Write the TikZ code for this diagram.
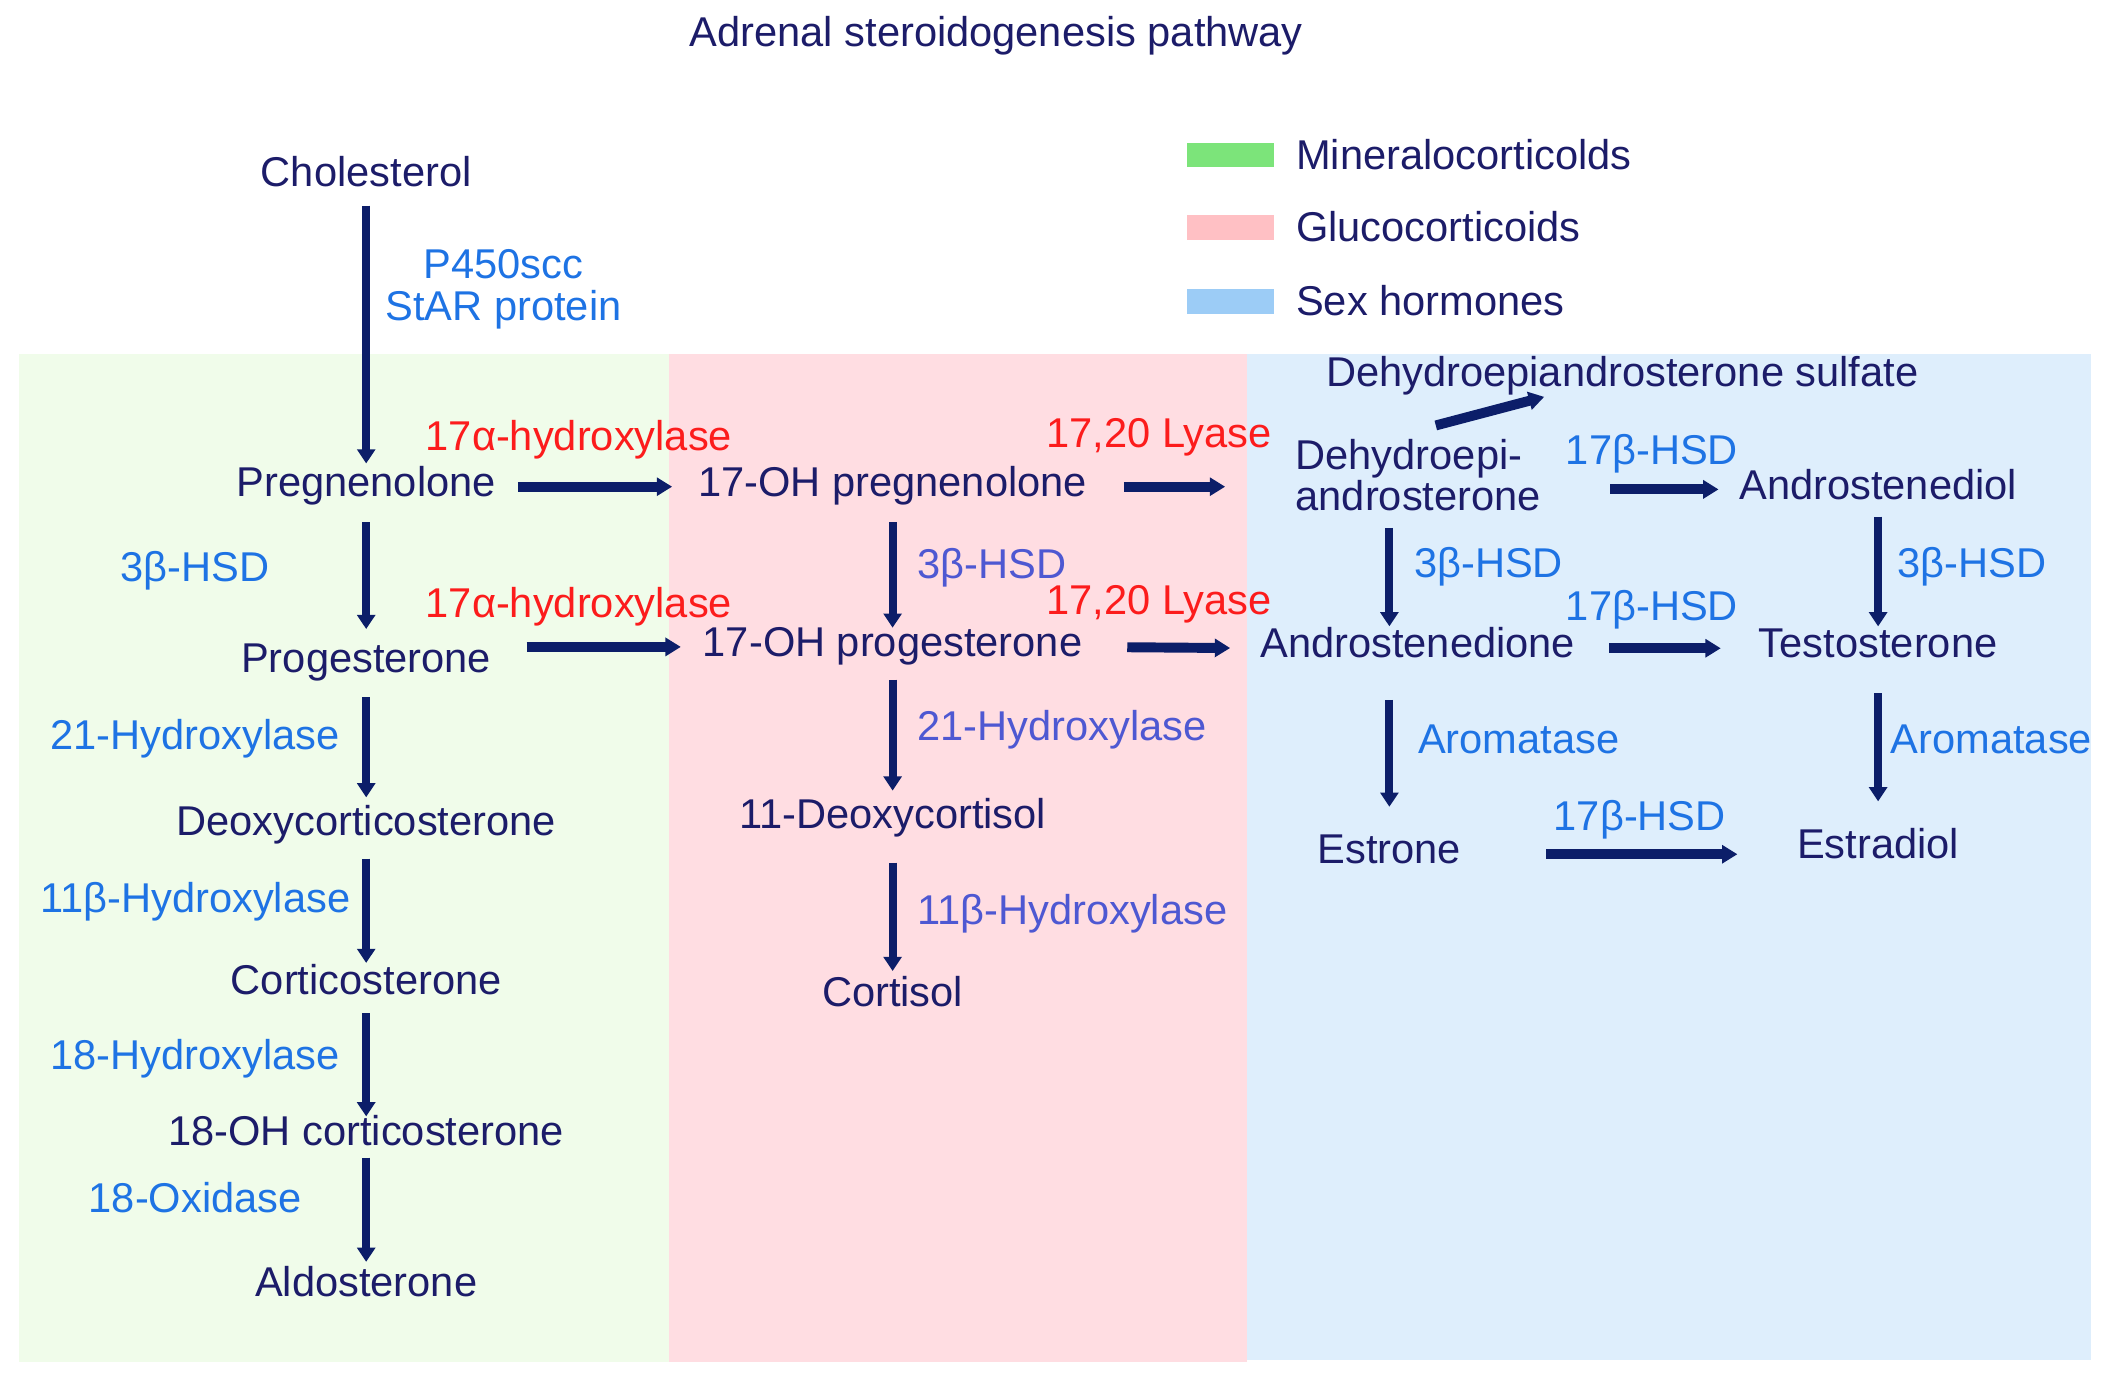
\documentclass[tikz,border=0pt]{standalone}
\usepackage{fontspec}
\setmainfont{Liberation Sans}
\usetikzlibrary{positioning,arrows.meta}

\definecolor{navy}{RGB}{28,28,105}
\definecolor{arrowblue}{RGB}{12,30,105}
\definecolor{enzblue}{RGB}{30,115,228}
\definecolor{enzpurple}{RGB}{78,88,210}
\definecolor{enzred}{RGB}{252,28,28}
\definecolor{mineral}{RGB}{240,252,234}
\definecolor{gluco}{RGB}{255,221,226}
\definecolor{sexhorm}{RGB}{222,238,252}
\definecolor{keygreen}{RGB}{124,228,122}
\definecolor{keypink}{RGB}{255,192,196}
\definecolor{keyblue}{RGB}{156,204,246}

\tikzset{
  txt/.style={font=\fontsize{17.6}{17.6}\selectfont, inner sep=0pt},
  fixh/.style={text height=0.86em, text depth=0.04em, yshift=-0.07cm},
  cmpd/.style={txt, fixh, text=navy},
  enz/.style={txt, fixh, text=enzblue},
  enzb/.style={txt, fixh, text=enzpurple},
  enzr/.style={txt, fixh, text=enzred},
  swatch/.style={minimum width=1.28cm, minimum height=0.36cm, inner sep=0pt},
  vstep/.style={draw=arrowblue, line width=3.4pt, -{Triangle[length=6pt, width=7.5pt]}, shorten <=0.26cm, shorten >=0.26cm},
  hstep/.style={draw=arrowblue, line width=4.2pt, -{Triangle[length=6.5pt, width=7.5pt]}}
}

\begin{document}
\begin{tikzpicture}[x=0.02cm, y=-0.02cm]
    \useasboundingbox (0,0) rectangle (1568,1032);
    % Panels
    \fill[mineral] (14,263) rectangle (497,1012);
    \fill[gluco] (497,263) rectangle (926,1012);
    \fill[sexhorm] (926,263) rectangle (1553,1010);
    % Title
    \node (title) [cmpd] at (740,24) {Adrenal steroidogenesis pathway};
    % Key
    \node (kmin) [swatch, fill=keygreen] at (914,115) {};
    \node (kglu) [swatch, fill=keypink] at (914,169) {};
    \node (ksex) [swatch, fill=keyblue] at (914,224) {};
    \node (tmin) [cmpd, right=0.32cm of kmin] {Mineralocorticolds};
    \node (tglu) [cmpd, right=0.32cm of kglu] {Glucocorticoids};
    \node (tsex) [cmpd, right=0.32cm of ksex] {Sex hormones};
    % Mineralocorticoids
    \node (chol) [cmpd] at (272,128) {Cholesterol};
    \node (preg) [cmpd] at (272,358) {Pregnenolone};
    \node (prog) [cmpd] at (272,489) {Progesterone};
    \node (doc) [cmpd] at (272,610) {Deoxycorticosterone};
    \node (cort) [cmpd] at (272,728) {Corticosterone};
    \node (ohcort) [cmpd] at (272,840) {18-OH corticosterone};
    \node (aldo) [cmpd] at (272,952) {Aldosterone};
    % Glucocorticoids
    \node (ohpreg) [cmpd] at (663,358) {17-OH pregnenolone};
    \node (ohprog) [cmpd] at (663,477) {17-OH progesterone};
    \node (dcortl) [cmpd] at (663,605) {11-Deoxycortisol};
    \node (cortl) [cmpd] at (663,737) {Cortisol};
    % Sex hormones
    \node (dheas) [cmpd] at (1205,276) {Dehydroepiandrosterone sulfate};
    \node (dhea) [txt, text=navy, align=left, anchor=west, font=\fontsize{17.6}{16.4}\selectfont] at (962,353) {Dehydroepi-\\androsterone};
    \node (andro) [cmpd] at (1053,478) {Androstenedione};
    \node (estr) [cmpd] at (1032,631) {Estrone};
    \node (adiol) [cmpd] at (1395,360) {Androstenediol};
    \node (testo) [cmpd] at (1395,478) {Testosterone};
    \node (estd) [cmpd] at (1395,627) {Estradiol};
    % Enzymes
    \node (scc) [txt, text=enzblue, align=center] at (374,215) {P450scc\\StAR protein};
    \node (hsd1) [enz] at (145,421) {3β-HSD};
    \node (hyd21a) [enz] at (145,546) {21-Hydroxylase};
    \node (hyd11a) [enz] at (145,667) {11β-Hydroxylase};
    \node (hyd18) [enz] at (145,784) {18-Hydroxylase};
    \node (oxi18) [enz] at (145,890) {18-Oxidase};
    \node (hyd17a) [enzr] at (430,324) {17α-hydroxylase};
    \node (hyd17b) [enzr] at (430,448) {17α-hydroxylase};
    \node (lyasea) [enzr] at (861,322) {17,20 Lyase};
    \node (lyaseb) [enzr] at (861,446) {17,20 Lyase};
    \node (hsd2) [enzb, anchor=west] at (681,419) {3β-HSD};
    \node (hyd21b) [enzb, anchor=west] at (681,539) {21-Hydroxylase};
    \node (hyd11b) [enzb, anchor=west] at (681,676) {11β-Hydroxylase};
    \node (hsd3) [enz, anchor=west] at (1050,418) {3β-HSD};
    \node (aroma) [enz, anchor=west] at (1053,549) {Aromatase};
    \node (hsd4) [enz, anchor=west] at (1409,418) {3β-HSD};
    \node (aromb) [enz, anchor=west] at (1404,549) {Aromatase};
    \node (bhsda) [enz] at (1227,334) {17β-HSD};
    \node (bhsdb) [enz] at (1227,450) {17β-HSD};
    \node (bhsdc) [enz] at (1218,606) {17β-HSD};
    % Vertical steps
    \draw[vstep, shorten >=0.18cm] (chol) -- (preg);
    \draw[vstep, shorten <=0.36cm, shorten >=0.34cm] (preg) -- (prog);
    \draw[vstep, shorten <=0.34cm] (prog) -- (doc);
    \draw[vstep, shorten <=0.32cm, shorten >=0.16cm] (doc) -- (cort);
    \draw[vstep, shorten >=0.12cm] (cort) -- (ohcort);
    \draw[vstep, shorten <=0.16cm, shorten >=0.2cm] (ohcort) -- (aldo);
    \draw[vstep, shorten <=0.36cm, shorten >=0.12cm] (ohpreg) -- (ohprog);
    \draw[vstep, shorten <=0.32cm] (ohprog) -- (dcortl);
    \draw[vstep, shorten <=0.48cm, shorten >=0.22cm] (dcortl) -- (cortl);
    \draw[vstep, shorten <=0.24cm, shorten >=0.16cm] (estr |- dhea.south) -- (estr |- andro.north);
    \draw[vstep, shorten <=0.6cm, shorten >=0.54cm] (estr |- andro.south) -- (estr.north);
    \draw[vstep, shorten <=0.24cm, shorten >=0.16cm] (adiol) -- (testo);
    \draw[vstep, shorten <=0.5cm, shorten >=0.54cm] (testo) -- (estd);
    % Horizontal steps
    \draw[hstep, shorten <=0.32cm, shorten >=0.38cm] (preg.east) -- (ohpreg.west);
    \draw[hstep, shorten <=0.52cm, shorten >=0.32cm] (prog.east |- ohprog) -- (ohprog.west);
    \draw[hstep, shorten <=0.54cm, shorten >=1.04cm] (ohpreg.east) -- (ohpreg.east -| dhea.west);
    \draw[hstep, shorten <=0.66cm, shorten >=0.44cm] (ohprog.east) -- (andro.west);
    \draw[hstep, shorten <=1.02cm, shorten >=0.3cm] (dhea.east |- adiol) -- (adiol.west);
    \draw[hstep, shorten <=0.5cm, shorten >=0.56cm] (andro.east) -- (testo.west);
    \draw[hstep, shorten <=1.26cm, shorten >=0.88cm] (estr.east) -- (estr -| estd.west);
    \draw[hstep] ([shift={(13,-10)}]dhea.north) -- ([shift={(-58,7)}]dheas.south);
\end{tikzpicture}
\end{document}
